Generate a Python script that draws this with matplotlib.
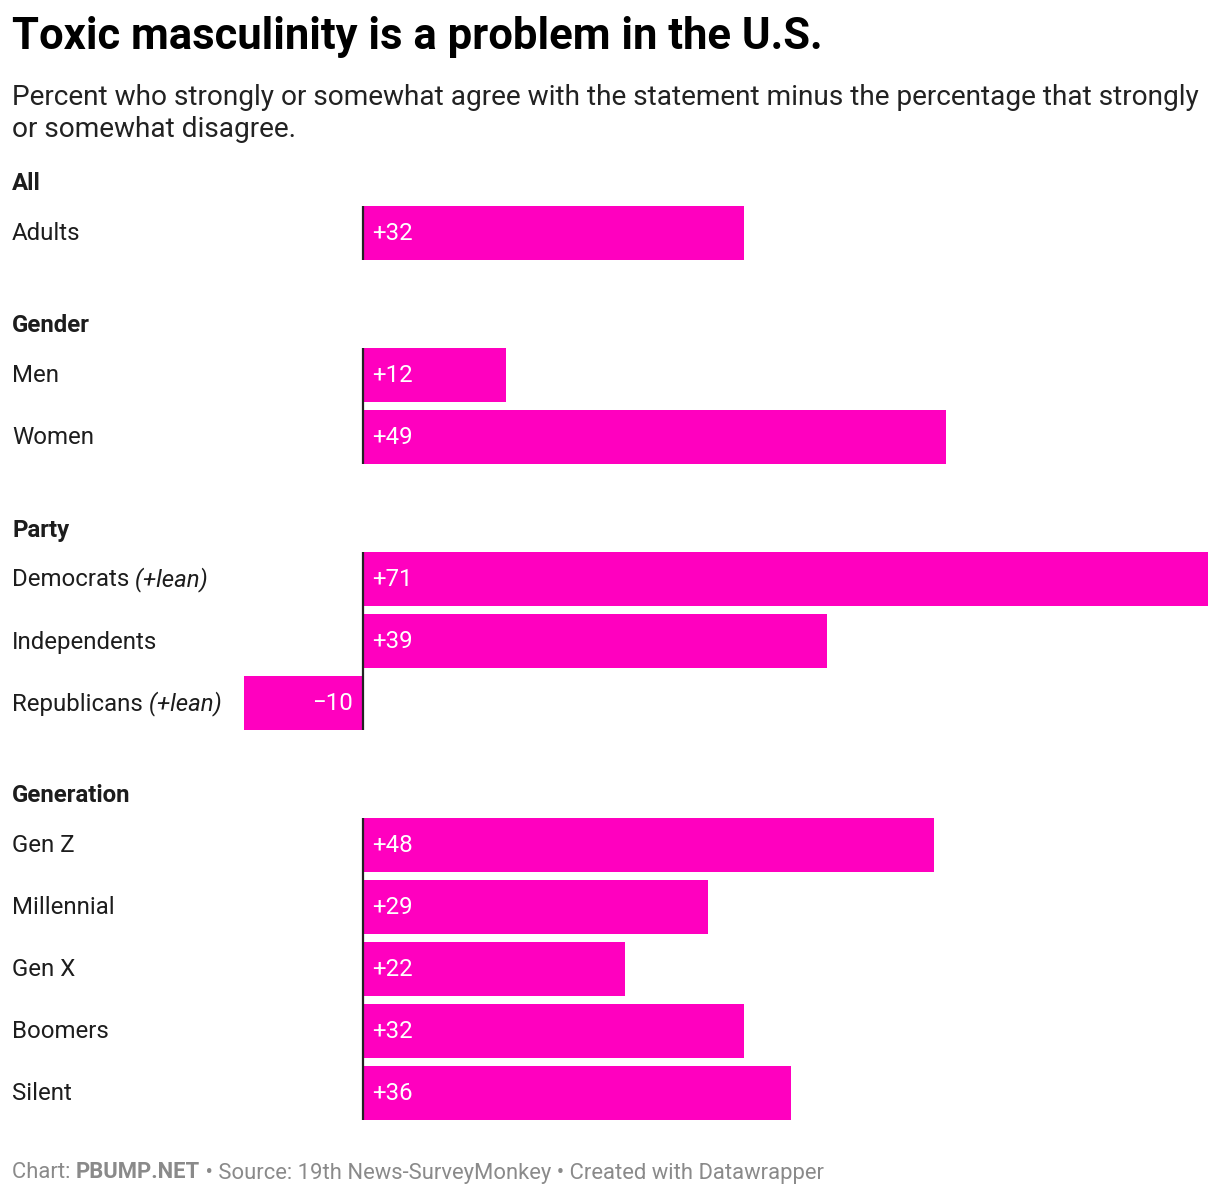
import matplotlib
matplotlib.use("Agg")
import matplotlib.pyplot as plt
from matplotlib.transforms import blended_transform_factory, ScaledTranslation

plt.rcParams['font.family'] = ['Roboto', 'DejaVu Sans']

groups = ["All", "Gender", "Party", "Generation"]
categories = [
    ["Adults"],
    ["Men", "Women"],
    ["Democrats", "Independents", "Republicans"],
    ["Gen Z", "Millennial", "Gen X", "Boomers", "Silent"],
]
suffixes = [
    [""],
    ["", ""],
    [" (+lean)", "", " (+lean)"],
    ["", "", "", "", ""],
]
values = [
    [32],
    [12, 49],
    [71, 39, -10],
    [48, 29, 22, 32, 36],
]

title = "Toxic masculinity is a problem in the U.S."
subtitle = ("Percent who strongly or somewhat agree with the statement minus the percentage that strongly\n"
            "or somewhat disagree.")
footer_parts = [("Chart: ", "normal"), ("PBUMP.NET", "bold"),
                (" \u2022 Source: 19th News-SurveyMonkey \u2022 Created with Datawrapper", "normal")]

BAR = "#ff00bf"
TXT = "#1d1d1d"
GRAY = "#8a8a8a"

W, H = 1220, 1196
DPI = 100
fig = plt.figure(figsize=(W / DPI, H / DPI), dpi=DPI)
fig.patch.set_facecolor("white")

# axes spanning the bar area horizontally, full height vertically (y in pixels)
x0_px, x1_px = 244, 1208
ax = fig.add_axes([x0_px / W, 0, (x1_px - x0_px) / W, 1])
ax.set_xlim(-10, 71)
ax.set_ylim(H, 0)
ax.axis("off")

label_tr = blended_transform_factory(fig.transFigure, ax.transData)
pos_off = ax.transData + ScaledTranslation(9 / DPI, 0, fig.dpi_scale_trans)
neg_off = ax.transData + ScaledTranslation(-10 / DPI, 0, fig.dpi_scale_trans)

bar_h = 54
label_x = 12 / W
fs = 17.25

y = 183
for g, cats, sufs, vals in zip(groups, categories, suffixes, values):
    ax.text(label_x, y + 1, g, transform=label_tr, fontsize=fs, fontweight="bold",
            color=TXT, va="center", ha="left")
    y += 50
    ys = []
    for c, s, v in zip(cats, sufs, vals):
        ax.barh(y, v, height=bar_h, color=BAR, left=0)
        t = ax.text(label_x, y + 1, c, transform=label_tr, fontsize=fs, color=TXT,
                    va="center", ha="left")
        if s:
            ax.annotate(s, xy=(1, 0), xycoords=t, fontsize=fs, style="italic",
                        color=TXT, va="bottom", ha="left")
        if v >= 0:
            ax.text(0, y + 1, f"+{v}", transform=pos_off, fontsize=fs, color="white",
                    va="center", ha="left")
        else:
            ax.text(0, y + 1, f"\u2212{abs(v)}", transform=neg_off, fontsize=fs,
                    color="white", va="center", ha="right")
        ys.append(y)
        y += 62
    ax.vlines(0, ys[0] - bar_h / 2, ys[-1] + bar_h / 2, color="#222222", lw=1.6)
    y += 30

fig.text(12 / W, 1 - 37 / H, title, fontsize=31.4, fontweight="bold", color="#000000",
         va="center", ha="left")
fig.text(12 / W, 1 - 84 / H, subtitle, fontsize=20.15, color="#222222",
         va="top", ha="left", linespacing=1.22)

prev = fig.text(12 / W, 1 - 1173 / H, footer_parts[0][0], fontsize=15.8,
                fontweight=footer_parts[0][1], color=GRAY, va="center", ha="left")
for txt, wt in footer_parts[1:]:
    prev = ax.annotate(txt, xy=(1, 0), xycoords=prev, fontsize=15.8, fontweight=wt,
                       color=GRAY, va="bottom", ha="left", annotation_clip=False)

fig.savefig("out.png", dpi=DPI, facecolor="white")
